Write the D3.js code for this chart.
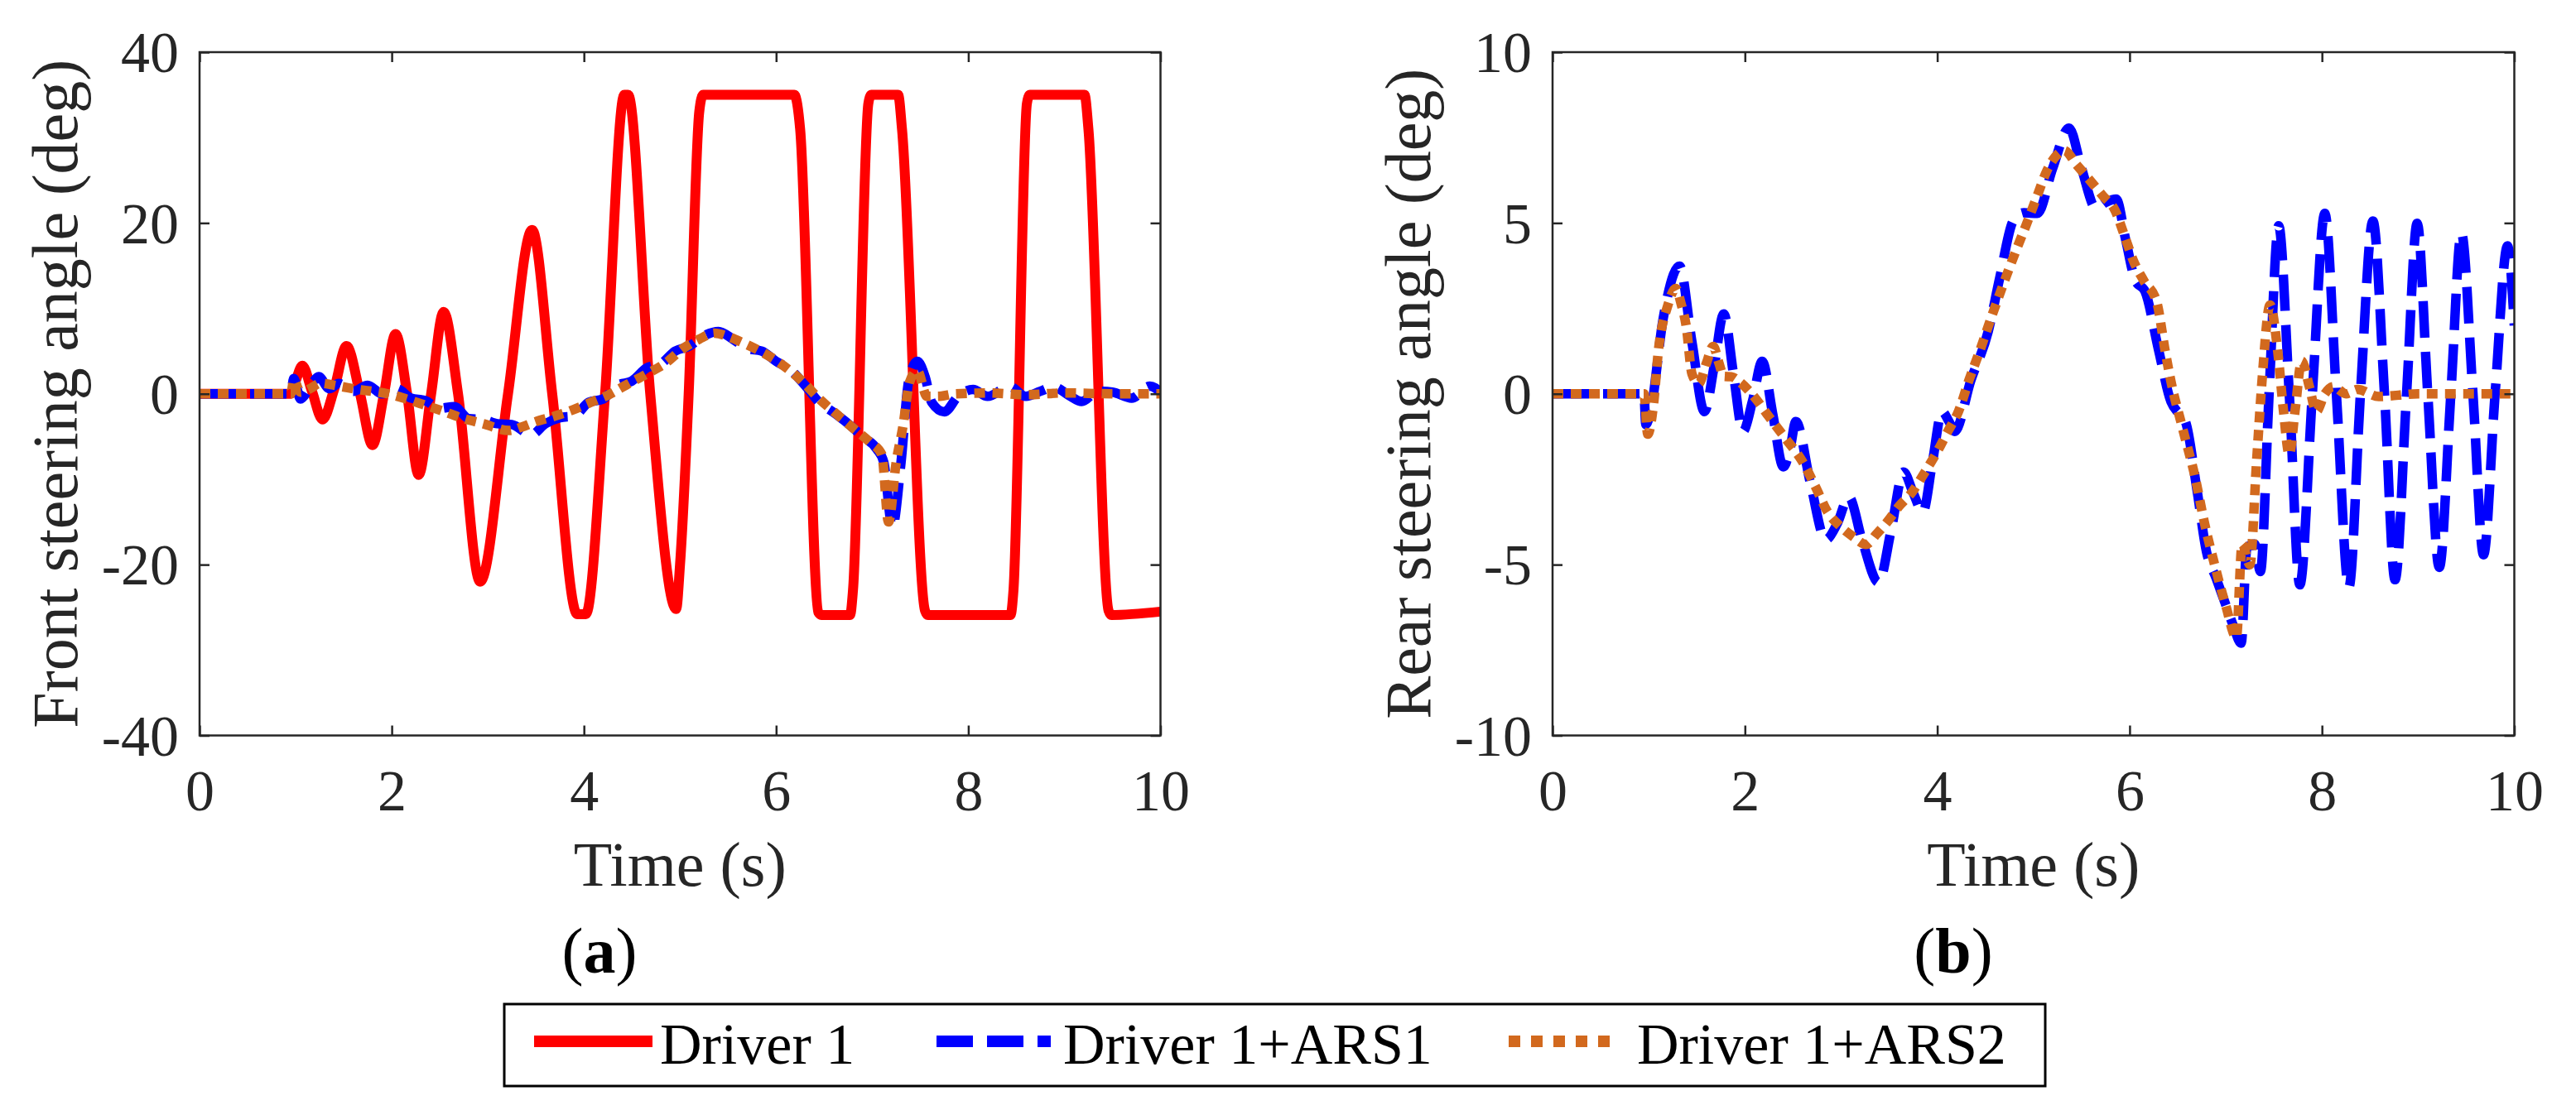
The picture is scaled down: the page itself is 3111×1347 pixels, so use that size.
<!DOCTYPE html>
<html><head><meta charset="utf-8">
<script src="https://cdn.jsdelivr.net/npm/d3@7"></script>
<style>body{margin:0;background:#fff}svg{display:block}</style>
</head><body>
<script>
// ---------- data ----------
const timeTicks = [0, 2, 4, 6, 8, 10];
const frontTicks = [-40, -20, 0, 20, 40];
const rearTicks = [-10, -5, 0, 5, 10];
const seriesNames = ["Driver 1", "Driver 1+ARS1", "Driver 1+ARS2"];
const panelLetters = ["a", "b"];
const yLabels = ["Front steering angle (deg)", "Rear steering angle (deg)"];
const xLabel = "Time (s)";

// Front steering angle, Driver 1 [time s, deg]
const frontDriver1 = [[0,0],[0.95,0],[1.0,1.5],[1.07,3.3],[1.17,0.3],[1.28,-3.0],[1.40,0.5],[1.53,5.6],[1.67,0],[1.80,-6.0],[1.92,0],[2.04,7.0],[2.16,0],[2.28,-9.5],[2.41,0],[2.54,9.6],[2.69,0],[2.92,-22.0],[3.21,0],[3.46,19.2],[3.67,0],[3.93,-25.8],[4.02,-25.8],[4.22,0],[4.42,35],[4.46,35],[4.69,0],[4.96,-25.2],[5.0,-20],[5.09,0],[5.2,33],[5.24,35],[6.19,35],[6.25,31],[6.44,-25.6],[6.47,-25.9],[6.77,-25.9],[6.80,-23],[6.96,34],[6.99,35],[7.27,35],[7.31,31],[7.55,-25.4],[7.58,-25.9],[8.44,-25.9],[8.47,-23],[8.61,34],[8.64,35],[9.21,35],[9.25,31],[9.46,-25.4],[9.49,-25.9],[10,-25.5]];
// Front steering angle, Driver 1+ARS1
const frontArs1 = [[0,0],[0.95,0],[0.98,1.8],[1.05,-0.6],[1.15,0.8],[1.24,2.0],[1.35,0.6],[1.45,1.2],[1.6,0.3],[1.75,1.0],[1.9,0],[2.05,0.6],[2.2,-0.5],[2.35,-0.8],[2.5,-1.7],[2.65,-1.5],[2.8,-2.9],[2.95,-3.0],[3.1,-3.5],[3.25,-3.6],[3.45,-4.8],[3.6,-3.5],[3.75,-2.8],[3.9,-2.6],[4.05,-1.0],[4.2,-0.6],[4.35,1.0],[4.5,1.5],[4.65,3.0],[4.8,3.5],[4.95,5.0],[5.1,5.6],[5.25,6.8],[5.4,7.3],[5.55,6.4],[5.7,5.3],[5.85,5.0],[6.0,3.8],[6.15,2.8],[6.3,1.0],[6.45,-1.0],[6.6,-2.2],[6.75,-3.5],[6.9,-5.0],[7.05,-6.5],[7.12,-8.0],[7.21,-15.6],[7.3,-8],[7.38,1.5],[7.47,3.8],[7.55,2.0],[7.62,-1.0],[7.75,-2.1],[7.9,-0.2],[8.05,0.5],[8.2,-0.3],[8.43,0.85],[8.6,-0.3],[8.75,0.3],[8.89,0.8],[9.05,-0.2],[9.18,-0.9],[9.35,0.3],[9.5,0.2],[9.7,-0.5],[9.89,0.9],[10,0.2]];
// Front steering angle, Driver 1+ARS2
const frontArs2 = [[0,0],[0.95,0],[0.98,1.6],[1.05,0.2],[1.15,0.6],[1.26,1.25],[1.38,1.05],[1.5,0.8],[1.65,0.5],[1.8,0.3],[1.96,0],[2.15,-0.6],[2.34,-1.3],[2.55,-2.1],[2.72,-2.8],[2.95,-3.5],[3.22,-4.3],[3.35,-3.9],[3.49,-3.3],[3.7,-2.6],[3.88,-1.9],[4.05,-1.1],[4.26,-0.1],[4.45,1.1],[4.65,2.3],[4.85,3.6],[5.03,5.3],[5.2,6.4],[5.36,7.1],[5.5,6.7],[5.65,6.0],[5.8,5.2],[6.0,3.9],[6.25,1.7],[6.45,-0.6],[6.6,-2.1],[6.8,-4.0],[6.97,-5.6],[7.1,-7.1],[7.17,-15.0],[7.25,-8],[7.32,-3.8],[7.39,1.4],[7.47,2.7],[7.57,-0.3],[7.68,-0.3],[7.86,0],[8.2,0.1],[8.6,-0.1],[9,0.1],[9.5,0],[10,0]];
// Rear steering angle, Driver 1+ARS1
const rearArs1 = [[0,0],[0.95,0],[0.97,-0.9],[1.02,-0.5],[1.15,2.2],[1.32,3.74],[1.45,1.5],[1.58,-0.52],[1.68,0.8],[1.78,2.34],[1.88,0.6],[1.98,-1.1],[2.08,-0.2],[2.18,0.95],[2.29,-0.6],[2.40,-2.14],[2.47,-1.6],[2.53,-0.81],[2.68,-2.6],[2.84,-4.27],[2.96,-3.8],[3.08,-3.02],[3.22,-4.3],[3.39,-5.52],[3.52,-4.0],[3.65,-2.29],[3.75,-2.9],[3.85,-3.46],[3.95,-2.0],[4.05,-0.52],[4.12,-0.8],[4.18,-1.1],[4.35,0.4],[4.53,1.83],[4.65,3.4],[4.79,5.06],[4.9,5.3],[5.04,5.28],[5.2,6.6],[5.37,7.78],[5.5,6.6],[5.65,5.43],[5.75,5.6],[5.86,5.7],[5.96,4.5],[6.06,3.31],[6.16,3.0],[6.3,1.3],[6.43,-0.23],[6.52,-0.6],[6.58,-0.81],[6.7,-2.8],[6.80,-4.63],[6.9,-5.4],[6.99,-6.1],[7.08,-6.8],[7.16,-7.3],[7.22,-4.5],[7.3,-4.4],[7.36,-5.2],[7.45,0],[7.55,4.92],[7.66,0],[7.77,-5.59],[7.9,0],[8.03,5.28],[8.15,0],[8.28,-5.66],[8.4,0],[8.53,5.06],[8.65,0],[8.76,-5.44],[8.88,0],[8.99,4.99],[9.1,0],[9.22,-5.08],[9.34,0],[9.45,4.70],[9.57,0],[9.68,-4.71],[9.8,0],[9.93,4.33],[10,2.0]];
// Rear steering angle, Driver 1+ARS2
const rearArs2 = [[0,0],[0.95,0],[0.99,-1.18],[1.05,-0.3],[1.10,1.25],[1.2,2.6],[1.28,3.08],[1.34,2.6],[1.39,1.98],[1.45,0.58],[1.52,0.3],[1.6,0.9],[1.67,1.39],[1.73,0.9],[1.78,0.51],[1.86,0.5],[1.94,0.36],[2.1,-0.1],[2.25,-0.67],[2.42,-1.3],[2.60,-1.99],[2.73,-2.7],[2.86,-3.46],[3.0,-3.9],[3.13,-4.19],[3.26,-4.41],[3.37,-4.1],[3.48,-3.75],[3.6,-3.3],[3.74,-2.87],[3.87,-2.3],[4.0,-1.69],[4.11,-1.1],[4.22,-0.52],[4.33,0.4],[4.44,1.24],[4.57,2.3],[4.70,3.31],[4.82,4.2],[4.93,4.98],[5.04,5.8],[5.14,6.53],[5.23,6.95],[5.32,7.12],[5.45,6.7],[5.59,6.24],[5.72,5.8],[5.85,5.36],[5.95,4.6],[6.04,3.89],[6.15,3.3],[6.28,2.71],[6.37,1.25],[6.43,0.36],[6.55,-1.0],[6.68,-2.43],[6.78,-3.8],[6.89,-5.07],[7.0,-6.2],[7.11,-7.13],[7.17,-4.4],[7.25,-5.0],[7.32,-2.0],[7.38,0.5],[7.46,2.6],[7.54,1.25],[7.60,-0.5],[7.66,-1.77],[7.72,-0.5],[7.79,0.96],[7.87,0.2],[7.94,-0.52],[8.03,0],[8.12,0.21],[8.25,0],[8.37,0.13],[8.59,-0.08],[9,0],[10,0]];

// ---------- rendering ----------
const W = 3111, H = 1347;
const FONT = "'Liberation Serif','Times New Roman',Times,serif";
const AX = "#262626";
const styles = [
  {color: "#FF0000", width: 12, dash: null},
  {color: "#0000FF", width: 11.5, dash: "44,17"},
  {color: "#D2691E", width: 11.5, dash: "13,9"}
];

const svg = d3.select("body").append("svg").attr("width", W).attr("height", H)
  .style("font-family", FONT);

const panels = [
  {left: 241, right: 1401.5, top: 63, bottom: 888.5, yDomain: [-40, 40], yTicks: frontTicks,
   series: [frontDriver1, frontArs1, frontArs2], seriesIdx: [0, 1, 2], yLabelX: 93, letterX: 724},
  {left: 1875, right: 3036.5, top: 63, bottom: 888.5, yDomain: [-10, 10], yTicks: rearTicks,
   series: [rearArs1, rearArs2], seriesIdx: [1, 2], yLabelX: 1727, letterX: 2359}
];

const fmt = d => String(d);

panels.forEach((p, i) => {
  const x = d3.scaleLinear().domain([0, 10]).range([p.left, p.right]);
  const y = d3.scaleLinear().domain(p.yDomain).range([p.bottom, p.top]);
  const g = svg.append("g");

  const clipId = "clip" + i;
  svg.append("defs").append("clipPath").attr("id", clipId)
    .append("rect").attr("x", p.left).attr("y", p.top)
    .attr("width", p.right - p.left).attr("height", p.bottom - p.top);

  const line = d3.line().x(d => x(d[0])).y(d => y(d[1])).curve(d3.curveMonotoneX);
  const lg = g.append("g").attr("clip-path", `url(#${clipId})`);
  p.series.forEach((s, k) => {
    const st = styles[p.seriesIdx[k]];
    lg.append("path").datum(s).attr("d", line)
      .attr("fill", "none").attr("stroke", st.color).attr("stroke-width", st.width)
      .attr("stroke-linejoin", "round").attr("stroke-linecap", "butt")
      .attr("stroke-dasharray", st.dash);
  });

  // axes
  const styleAxis = sel => {
    sel.select(".domain").remove();
    sel.selectAll(".tick line").attr("stroke", AX).attr("stroke-width", 2.5);
    sel.selectAll("text").attr("fill", AX).style("font-family", FONT).attr("font-size", 70);
  };
  g.append("g").attr("transform", `translate(0,${p.bottom})`)
    .call(d3.axisBottom(x).tickValues(timeTicks).tickSize(-12).tickFormat(fmt))
    .call(styleAxis)
    .call(s => s.selectAll("text").attr("y", 90).attr("dy", 0));
  g.append("g").attr("transform", `translate(0,${p.top})`)
    .call(d3.axisTop(x).tickValues(timeTicks).tickSize(-12).tickFormat(""))
    .call(styleAxis);
  g.append("g").attr("transform", `translate(${p.left},0)`)
    .call(d3.axisLeft(y).tickValues(p.yTicks).tickSize(-12).tickFormat(fmt))
    .call(styleAxis)
    .call(s => s.selectAll("text").attr("x", -25).attr("dy", "0.34em"));
  g.append("g").attr("transform", `translate(${p.right},0)`)
    .call(d3.axisRight(y).tickValues(p.yTicks).tickSize(-12).tickFormat(""))
    .call(styleAxis);

  g.append("rect").attr("x", p.left).attr("y", p.top)
    .attr("width", p.right - p.left).attr("height", p.bottom - p.top)
    .attr("fill", "none").attr("stroke", AX).attr("stroke-width", 2.5);

  // labels
  g.append("text").attr("x", (p.left + p.right) / 2).attr("y", 1070)
    .attr("text-anchor", "middle").attr("font-size", 76).attr("fill", AX).text(xLabel);
  g.append("text").attr("transform", `translate(${p.yLabelX},${(p.top + p.bottom) / 2}) rotate(-90)`)
    .attr("text-anchor", "middle").attr("font-size", 78).attr("fill", AX).text(yLabels[i]);
  const lt = g.append("text").attr("x", p.letterX).attr("y", 1175)
    .attr("text-anchor", "middle").attr("font-size", 78).attr("fill", "#000");
  lt.append("tspan").text("(");
  lt.append("tspan").attr("font-weight", "bold").text(panelLetters[i]);
  lt.append("tspan").text(")");
});

// legend
const leg = svg.append("g");
leg.append("rect").attr("x", 609).attr("y", 1213).attr("width", 1861).attr("height", 99)
  .attr("fill", "#fff").attr("stroke", "#000").attr("stroke-width", 3);
const legItems = [
  {x1: 645, x2: 788, tx: 797},
  {x1: 1131, x2: 1269, tx: 1284},
  {x1: 1822, x2: 1950, tx: 1977}
];
legItems.forEach((it, k) => {
  const st = styles[k];
  leg.append("line").attr("x1", it.x1).attr("x2", it.x2).attr("y1", 1258).attr("y2", 1258)
    .attr("stroke", st.color).attr("stroke-width", 14)
    .attr("stroke-dasharray", k === 2 ? "14,13" : st.dash);
  leg.append("text").attr("x", it.tx).attr("y", 1285).attr("font-size", 70)
    .attr("fill", "#000").text(seriesNames[k]);
});
</script>
</body></html>
